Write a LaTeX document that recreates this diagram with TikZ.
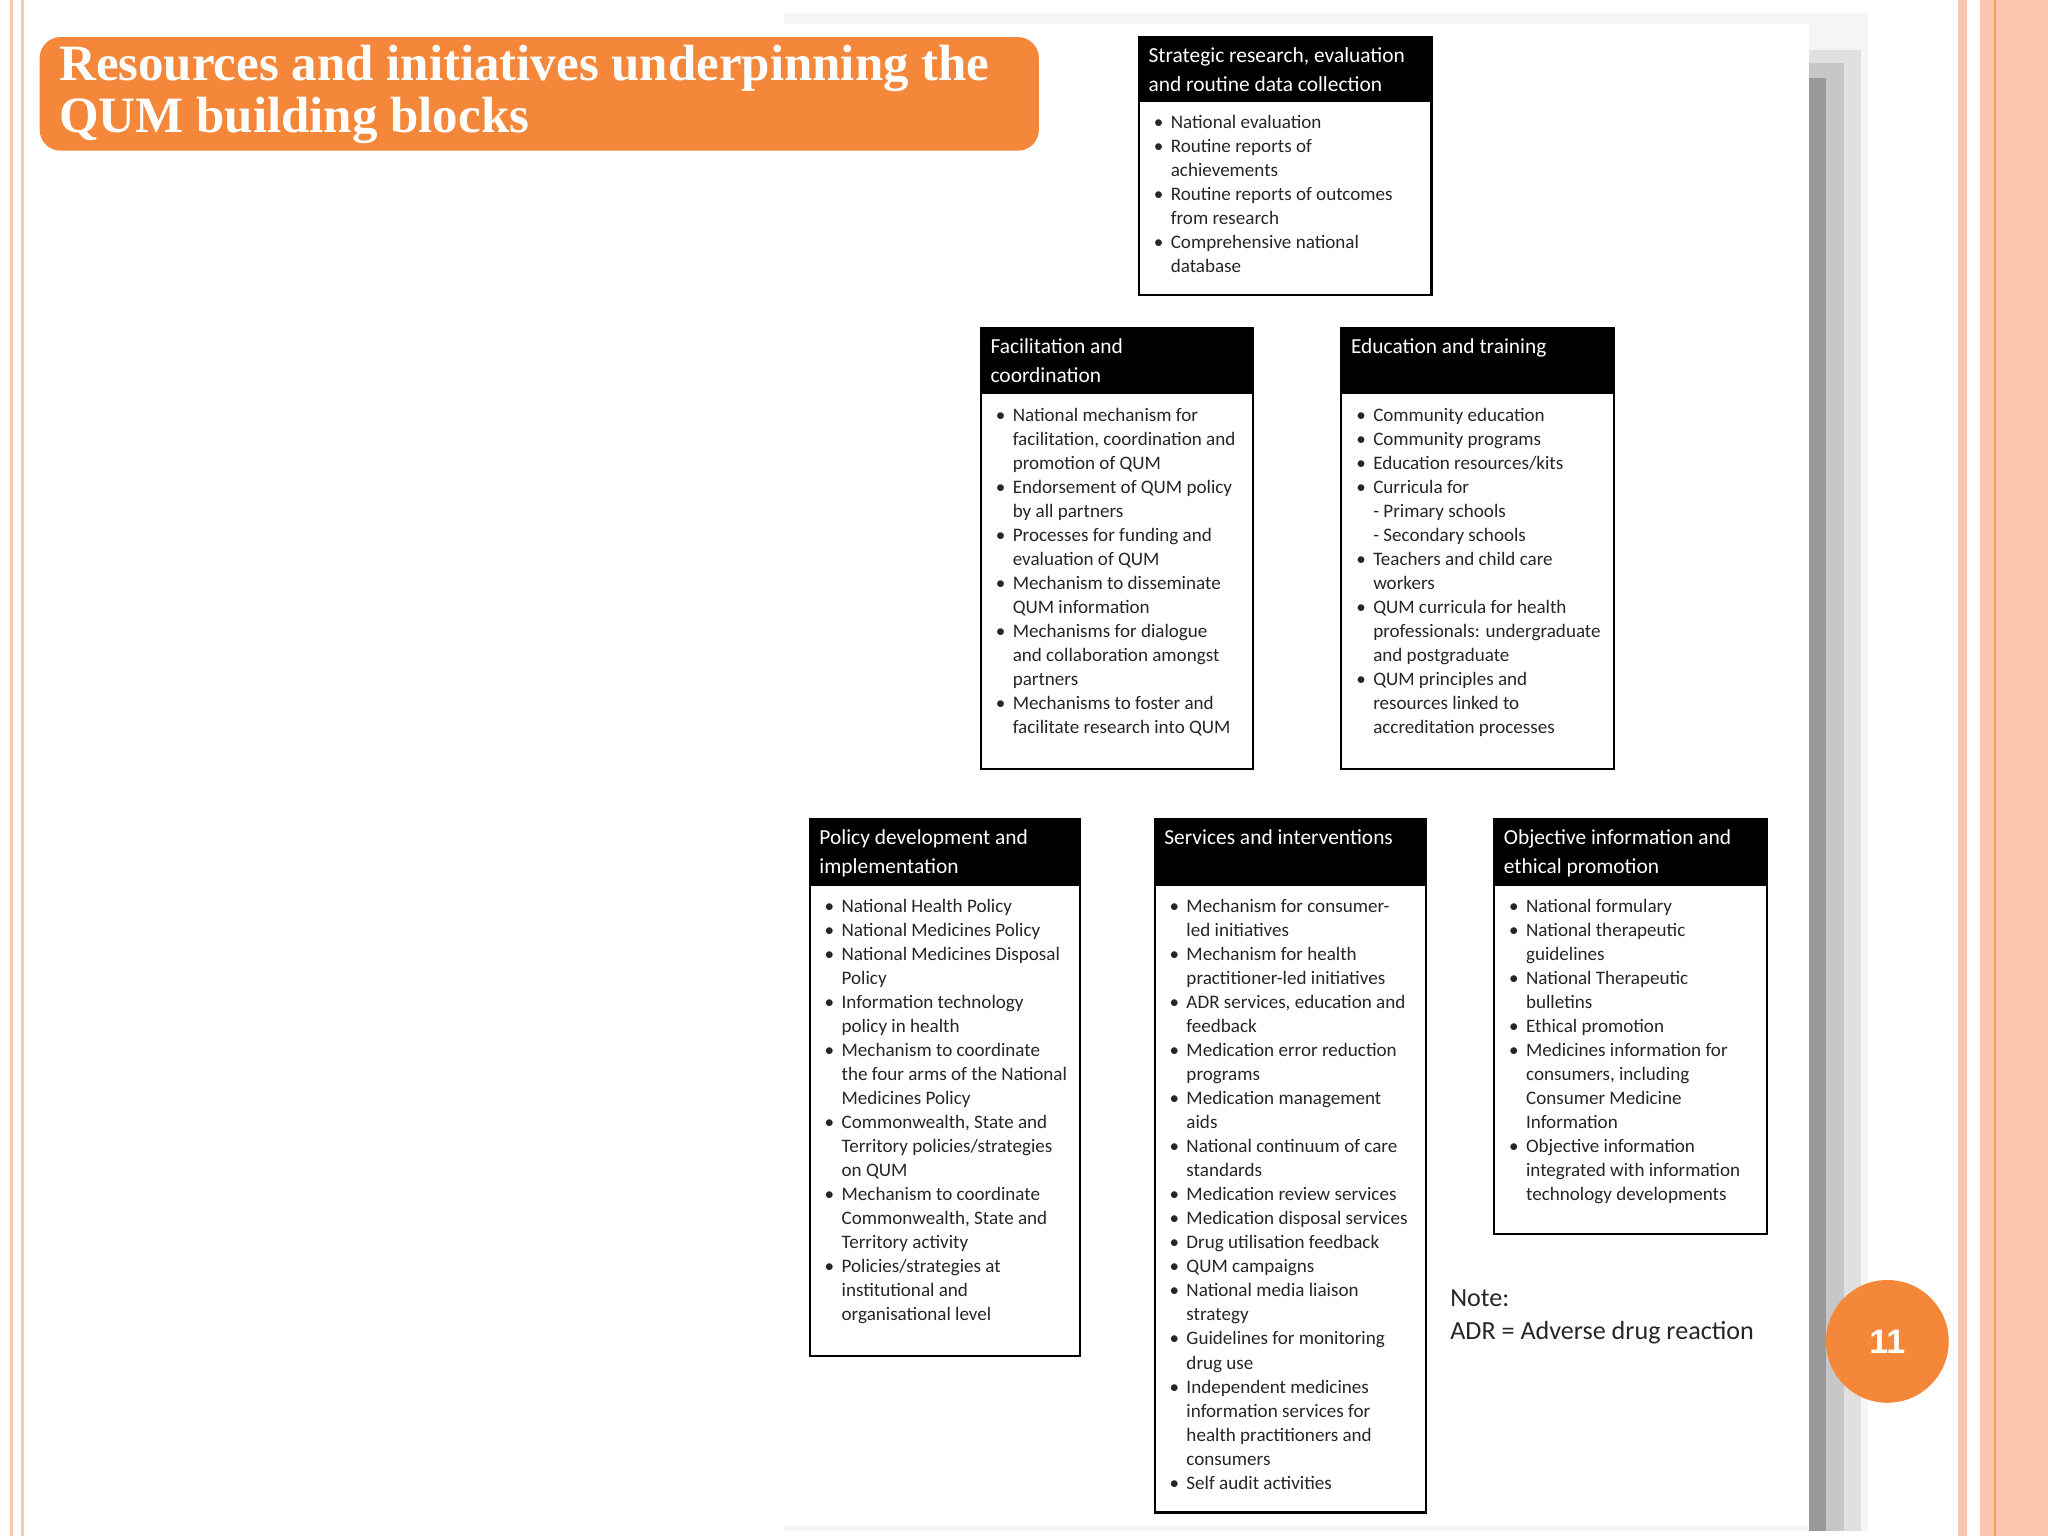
\documentclass[tikz,border=0pt]{standalone}
\usepackage{fontspec}
\setmainfont{Carlito}
\newfontfamily\titlefont{Liberation Serif}
\newfontfamily\numfont{Liberation Sans}
\definecolor{orng}{HTML}{F5873A}
\definecolor{pinkb}{HTML}{FBC6AE}
\newcommand\bi{\makebox[6.5pt][l]{\textbullet}}
\newcommand\ci{\hspace*{6.5pt}}
\tikzset{
 hdr/.style={fill=black,text=white,anchor=north west,align=left,inner sep=0pt,font=\fontsize{8.2}{11}\selectfont},
 bodytxt/.style={anchor=north west,align=left,inner sep=0pt,font=\fontsize{7.3}{9.2}\selectfont,text=black!85},
 frame/.style={draw=black,line width=0.8pt}
}
\begin{document}
\begin{tikzpicture}[x=0.5pt,y=-0.5pt]
\useasboundingbox (0,0) rectangle (1568,1176);
\fill[white] (0,0) rectangle (1568,1176);
% borders
\fill[pinkb] (8,0) rectangle (10,1176);
\fill[pinkb] (16,0) rectangle (18,1176);
\fill[pinkb] (1499,0) rectangle (1506,1176);
\fill[pinkb] (1516,0) rectangle (1568,1176);
\fill[orng!80] (1527,0) rectangle (1528.5,1176);
% page shadow
\fill[black!4] (600,10) rectangle (1430,1172);
\fill[black!12] (1385,38) rectangle (1425,1172);
\fill[black!22] (1385,48) rectangle (1412,1172);
\fill[black!40] (1385,60) rectangle (1398,1172);
\fill[white] (588,18) rectangle (1385,1168);
% title
\node[fill=orng,rounded corners=8pt,minimum width=765*0.5pt,minimum height=87*0.5pt,anchor=north west,inner sep=0pt] (titlebox) at (30,28) {};
\node[anchor=north west,align=left,text=white,inner sep=0pt,font=\titlefont\bfseries\fontsize{19.5}{20}\selectfont] (title) at (45,34) {Resources and initiatives underpinning the\\QUM building blocks};
% page number
\node[circle,fill=orng,minimum size=94*0.5pt,inner sep=0pt,text=white,font=\numfont\bfseries\fontsize{13}{13}\selectfont] (pnum) at (1445,1027) {11};
% boxes
\newcommand\qbox[8]{%
 \draw[frame] (#2,#3) rectangle (#4,#6);
 \fill[black] (#2,#3) rectangle (#4,#5);
 \node[hdr] (#1h) at (#2+7,#3+8) {#7};
 \node[bodytxt] (#1b) at (#2+11,#5+10) {#8};
}
\qbox{s}{872}{28}{1096}{78}{226}{Strategic research, evaluation\\and routine data collection}{%
\bi National evaluation\\\bi Routine reports of\\\ci achievements\\\bi Routine reports of outcomes\\\ci from research\\\bi Comprehensive national\\\ci database}
\qbox{f}{751}{251}{959}{302}{589}{Facilitation and\\coordination}{%
\bi National mechanism for\\\ci facilitation, coordination and\\\ci promotion of QUM\\\bi Endorsement of QUM policy\\\ci by all partners\\\bi Processes for funding and\\\ci evaluation of QUM\\\bi Mechanism to disseminate\\\ci QUM information\\\bi Mechanisms for dialogue\\\ci and collaboration amongst\\\ci partners\\\bi Mechanisms to foster and\\\ci facilitate research into QUM}
\qbox{e}{1027}{251}{1236}{302}{589}{Education and training}{%
\bi Community education\\\bi Community programs\\\bi Education resources/kits\\\bi Curricula for\\\ci - Primary schools\\\ci - Secondary schools\\\bi Teachers and child care\\\ci workers\\\bi QUM curricula for health\\\ci professionals: undergraduate\\\ci and postgraduate\\\bi QUM principles and\\\ci resources linked to\\\ci accreditation processes}
\qbox{p}{620}{627}{827}{678}{1038}{Policy development and\\implementation}{%
\bi National Health Policy\\\bi National Medicines Policy\\\bi National Medicines Disposal\\\ci Policy\\\bi Information technology\\\ci policy in health\\\bi Mechanism to coordinate\\\ci the four arms of the National\\\ci Medicines Policy\\\bi Commonwealth, State and\\\ci Territory policies/strategies\\\ci on QUM\\\bi Mechanism to coordinate\\\ci Commonwealth, State and\\\ci Territory activity\\\bi Policies/strategies at\\\ci institutional and\\\ci organisational level}
\qbox{v}{884}{627}{1092}{678}{1158}{Services and interventions}{%
\bi Mechanism for consumer-\\\ci led initiatives\\\bi Mechanism for health\\\ci practitioner-led initiatives\\\bi ADR services, education and\\\ci feedback\\\bi Medication error reduction\\\ci programs\\\bi Medication management\\\ci aids\\\bi National continuum of care\\\ci standards\\\bi Medication review services\\\bi Medication disposal services\\\bi Drug utilisation feedback\\\bi QUM campaigns\\\bi National media liaison\\\ci strategy\\\bi Guidelines for monitoring\\\ci drug use\\\bi Independent medicines\\\ci information services for\\\ci health practitioners and\\\ci consumers\\\bi Self audit activities}
\qbox{o}{1144}{627}{1353}{678}{945}{Objective information and\\ethical promotion}{%
\bi National formulary\\\bi National therapeutic\\\ci guidelines\\\bi National Therapeutic\\\ci bulletins\\\bi Ethical promotion\\\bi Medicines information for\\\ci consumers, including\\\ci Consumer Medicine\\\ci Information\\\bi Objective information\\\ci integrated with information\\\ci technology developments}
\node[anchor=north west,align=left,inner sep=0pt,font=\fontsize{10}{12.5}\selectfont,text=black!85] (note) at (1110,987) {Note:\\ADR = Adverse drug reaction};
\end{tikzpicture}
\end{document}
